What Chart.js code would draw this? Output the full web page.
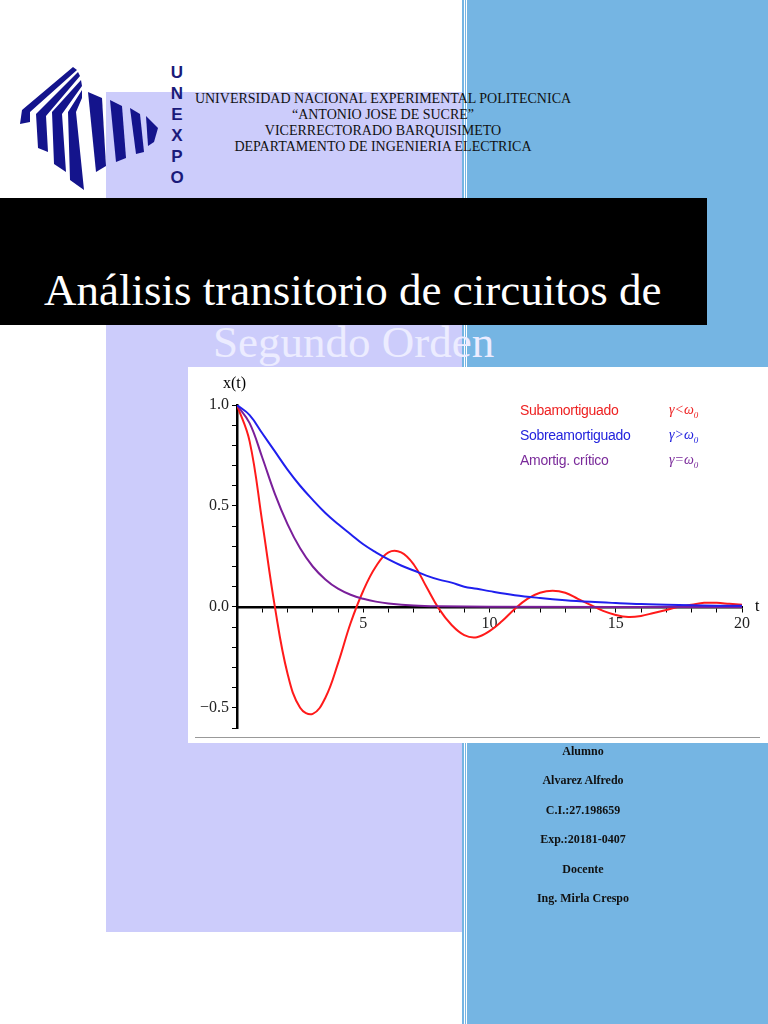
<!DOCTYPE html>
<html>
<head>
<meta charset="utf-8">
<script src="https://cdn.jsdelivr.net/npm/chart.js@4"></script>
<style>
  body { margin: 0; width: 768px; height: 1024px; position: relative; background: #fff; overflow: hidden; font-family: "Liberation Serif", serif; }
  .abs { position: absolute; }
  #lav { left: 106px; top: 92px; width: 356px; height: 840px; background: #ccccfb; }
  #blue { left: 462px; top: 0; width: 306px; height: 1024px; background: #75b5e3; }
  .wl { top: 0; width: 1px; height: 1024px; background: #fff; }
  #band { left: 0; top: 198px; width: 707px; height: 127px; background: #000; }
  #title { left: 44px; top: 264px; color: #fff; font-size: 45px; white-space: nowrap; }
  #sub { left: 213px; top: 316px; color: #ececff; font-size: 45px; white-space: nowrap; }
  #head { left: 150px; top: 91px; width: 466px; text-align: center; font-size: 14px; line-height: 16px; color: #111; }
  #unexpo { left: 168px; top: 62px; width: 18px; text-align: center; font-family: "Liberation Sans", sans-serif; font-weight: bold; font-size: 17px; line-height: 21px; color: #1a1a7a; }
  #box { left: 188px; top: 367px; width: 580px; height: 376px; background: #fff; }
  #rule { left: 195px; top: 737px; width: 565px; height: 1px; background: #999; }
  .leg { font-family: "Liberation Sans", sans-serif; font-size: 14px; letter-spacing: -0.3px; white-space: nowrap; }
  .gm { font-family: "Liberation Serif", serif; font-style: italic; font-size: 14px; }
  #info { left: 462px; top: 737px; width: 242px; text-align: center; font-weight: bold; font-size: 12px; line-height: 29.4px; color: #111; }
</style>
</head>
<body>
<div id="blue" class="abs"></div>
<div class="abs wl" style="left:464px"></div>
<div class="abs wl" style="left:466px"></div>
<div id="lav" class="abs"></div>
<svg class="abs" style="left:18px;top:62px" width="145" height="135" viewBox="0 0 145 135">
  <g fill="#14148c">
    <polygon points="55,5 59,8 12,50 12,60 2,62 4,48"/>
    <polygon points="60,10 62,14 28,54 30,90 20,86 18,52"/>
    <polygon points="63,18 64,24 44,52 48,110 36,102 34,50"/>
    <polygon points="64,28 64,36 58,50 66,128 52,118 50,50"/>
    <polygon points="70,30 84,36 88,104 78,110"/>
    <polygon points="92,38 104,44 108,96 98,100"/>
    <polygon points="112,46 122,52 126,90 118,92"/>
    <polygon points="128,54 140,66 136,80 130,84"/>
  </g>
</svg>
<div id="unexpo" class="abs">U<br>N<br>E<br>X<br>P<br>O</div>
<div id="head" class="abs">UNIVERSIDAD NACIONAL EXPERIMENTAL POLITECNICA<br>“ANTONIO JOSE DE SUCRE”<br>VICERRECTORADO BARQUISIMETO<br>DEPARTAMENTO DE INGENIERIA ELECTRICA</div>
<div id="band" class="abs"></div>
<div id="title" class="abs">Análisis transitorio de circuitos de</div>
<div id="sub" class="abs">Segundo Orden</div>
<div id="box" class="abs"><canvas id="c" width="580" height="376"></canvas></div>
<div id="rule" class="abs"></div>
<div class="abs" style="left:223px;top:374px;font-size:16px">x(t)</div>
<div class="abs" style="left:755px;top:597px;font-size:16px">t</div>
<div class="abs leg" style="left:520px;top:402px;color:#ee2222">Subamortiguado</div>
<div class="abs leg" style="left:520px;top:427px;color:#2222dd">Sobreamortiguado</div>
<div class="abs leg" style="left:520px;top:452px;color:#7a2a9a">Amortig. crítico</div>
<div class="abs gm" style="left:669px;top:402px;color:#ee2222">γ&lt;ω<sub style="font-size:9px">0</sub></div>
<div class="abs gm" style="left:669px;top:427px;color:#2222dd">γ&gt;ω<sub style="font-size:9px">0</sub></div>
<div class="abs gm" style="left:669px;top:452px;color:#7a2a9a">γ=ω<sub style="font-size:9px">0</sub></div>
<div id="info" class="abs">Alumno<br>Alvarez Alfredo<br>C.I.:27.198659<br>Exp.:20181-0407<br>Docente<br>Ing. Mirla Crespo</div>
<script>
// values
const tUnder = [0,0.5,1,1.5,2,2.5,3,3.5,4,4.5,5,5.5,6,6.5,7,7.5,8,8.5,9,9.5,10,10.5,11,11.5,12,12.5,13,13.5,14,14.5,15,15.5,16,16.5,17,17.5,18,18.5,19,19.5,20];
const xUnder = [1.0,0.82,0.42,0.0,-0.33,-0.5,-0.53,-0.45,-0.28,-0.08,0.08,0.2,0.27,0.27,0.21,0.1,-0.01,-0.09,-0.14,-0.15,-0.12,-0.07,-0.01,0.04,0.07,0.08,0.07,0.04,0.01,-0.02,-0.04,-0.05,-0.045,-0.03,-0.015,0.0,0.01,0.02,0.02,0.015,0.01];
const tOver = [0,0.5,1,1.5,2,2.5,3,3.5,4,4.5,5,5.5,6,6.5,7,7.5,8,8.5,9,9.5,10,11,12,13,14,15,16,17,18,19,20];
const xOver = [1.0,0.95,0.86,0.77,0.68,0.6,0.53,0.465,0.41,0.36,0.31,0.27,0.235,0.205,0.18,0.155,0.135,0.12,0.1,0.09,0.078,0.058,0.044,0.033,0.025,0.019,0.014,0.011,0.008,0.006,0.005];
const tCrit = [0,0.5,1,1.5,2,2.5,3,3.5,4,4.5,5,5.5,6,7,8,10,20];
const xCrit = [1.0,0.91,0.74,0.56,0.41,0.29,0.2,0.136,0.09,0.06,0.04,0.026,0.017,0.007,0.003,0.0005,0.0];
const xTickLabels = [5, 10, 15, 20];
const yTickLabels = [-0.5, 0.0, 0.5, 1.0];

const pts = (ts, xs) => ts.map((t, i) => ({ x: t, y: xs[i] }));

new Chart(document.getElementById('c'), {
  type: 'line',
  data: {
    datasets: [
      { data: pts(tOver, xOver), borderColor: '#1f1fee', borderWidth: 2 },
      { data: pts(tCrit, xCrit), borderColor: '#7a1f9a', borderWidth: 2 },
      { data: pts(tUnder, xUnder), borderColor: '#ff1a1a', borderWidth: 2 }
    ]
  },
  options: {
    responsive: false,
    animation: false,
    elements: { point: { radius: 0 }, line: { tension: 0.4 } },
    layout: { padding: { left: 49, right: 26, top: 38, bottom: 15 } },
    plugins: { legend: { display: false }, tooltip: { enabled: false } },
    scales: {
      x: {
        type: 'linear', min: 0, max: 20, position: { y: 0 },
        border: { color: '#000', width: 2.5 },
        grid: { drawOnChartArea: false, color: '#000', tickLength: 4 },
        ticks: {
          stepSize: 1, color: '#222', font: { family: 'Liberation Serif', size: 16 }, maxRotation: 0, autoSkip: false,
          callback: v => xTickLabels.includes(v) ? String(v) : ''
        }
      },
      y: {
        type: 'linear', min: -0.6, max: 1.0, position: { x: 0 },
        border: { color: '#000', width: 2.5 },
        grid: { drawOnChartArea: false, color: '#000', tickLength: 4 },
        ticks: {
          stepSize: 0.1, color: '#222', font: { family: 'Liberation Serif', size: 16 }, autoSkip: false,
          callback: v => {
            const r = Math.round(v * 10) / 10;
            return yTickLabels.includes(r) ? (r < 0 ? '\u2212' + Math.abs(r).toFixed(1) : r.toFixed(1)) + '  ' : '';
          }
        }
      }
    }
  }
});
</script>
</body>
</html>
